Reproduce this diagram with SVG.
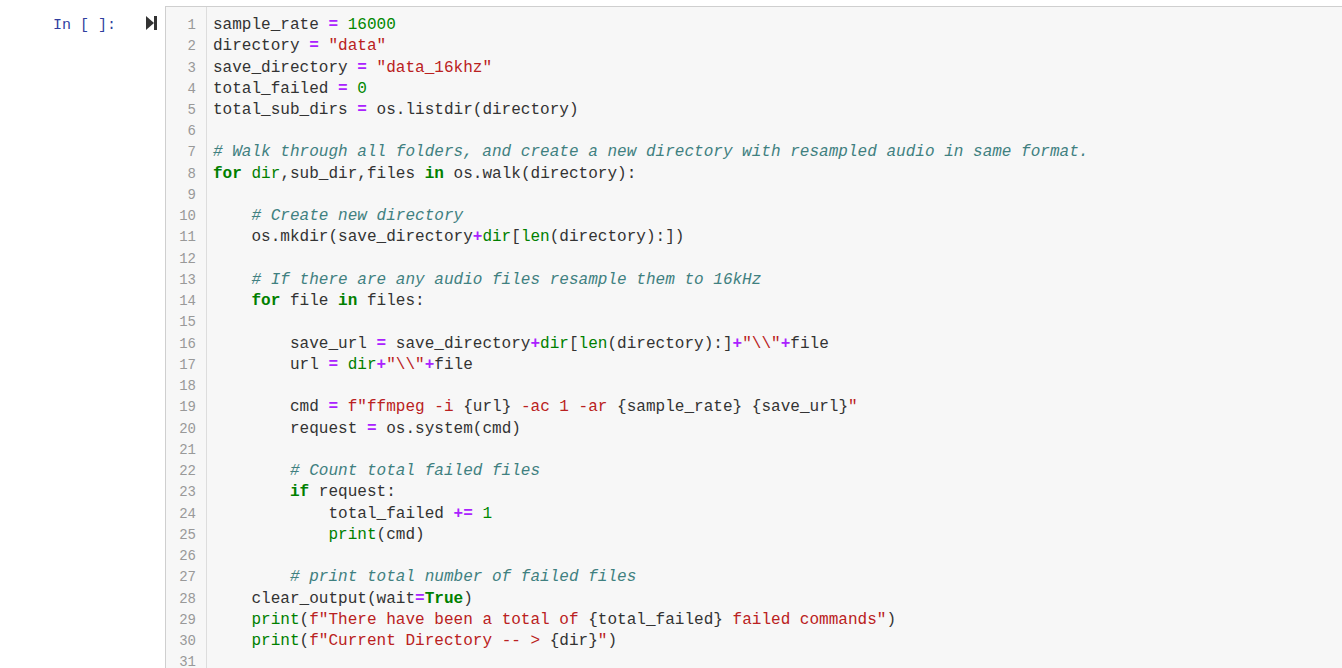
<svg xmlns="http://www.w3.org/2000/svg" width="1342" height="668" viewBox="0 0 1342 668">
<style>
.c{font-family:"Liberation Mono","DejaVu Sans Mono",monospace;font-size:16.05px;fill:#333;white-space:pre}
.n{font-family:"Liberation Mono",monospace;font-size:14px;fill:#999;text-anchor:end}
.k{fill:#008000;font-weight:bold}
.b{fill:#008000}
.o{fill:#aa22ff;font-weight:bold}
.s{fill:#ba2121}
.m{fill:#008800}
.cm{fill:#408080;font-style:italic}
</style>
<rect width="1342" height="668" fill="#fff"/>
<g id="prompt">
<text x="53" y="29" font-family="Liberation Mono,monospace" font-size="15" fill="#303f9f">In [ ]:</text>
<path d="M146 16 L154 23 L146 30 Z" fill="#333"/><rect x="154" y="16" width="3" height="14" fill="#333"/>
</g>
<g id="cell">
<rect x="165.5" y="6.5" width="1190" height="670" fill="#f7f7f7" stroke="#cfcfcf"/>
<line x1="206.5" y1="7" x2="206.5" y2="668" stroke="#ddd"/>
</g>
<g id="linenums">
<text class="n" x="196" y="29">1</text><text class="n" x="196" y="50">2</text><text class="n" x="196" y="71.5">3</text><text class="n" x="196" y="92.7">4</text><text class="n" x="196" y="114">5</text><text class="n" x="196" y="135.2">6</text><text class="n" x="196" y="156.4">7</text><text class="n" x="196" y="177.7">8</text><text class="n" x="196" y="198.9">9</text><text class="n" x="196" y="220.2">10</text><text class="n" x="196" y="241.4">11</text><text class="n" x="196" y="262.6">12</text><text class="n" x="196" y="283.9">13</text><text class="n" x="196" y="305.1">14</text><text class="n" x="196" y="326.4">15</text><text class="n" x="196" y="347.6">16</text><text class="n" x="196" y="368.8">17</text><text class="n" x="196" y="390.1">18</text><text class="n" x="196" y="411.3">19</text><text class="n" x="196" y="432.6">20</text><text class="n" x="196" y="453.8">21</text><text class="n" x="196" y="475">22</text><text class="n" x="196" y="496.3">23</text><text class="n" x="196" y="517.5">24</text><text class="n" x="196" y="538.8">25</text><text class="n" x="196" y="560">26</text><text class="n" x="196" y="581.2">27</text><text class="n" x="196" y="602.5">28</text><text class="n" x="196" y="623.7">29</text><text class="n" x="196" y="645">30</text><text class="n" x="196" y="666.2">31</text>
</g>
<g id="code">
<text class="c" x="213" y="29">sample_rate <tspan class="o">=</tspan> <tspan class="m">16000</tspan></text>
<text class="c" x="213" y="50.2">directory <tspan class="o">=</tspan> <tspan class="s">"data"</tspan></text>
<text class="c" x="213" y="71.5">save_directory <tspan class="o">=</tspan> <tspan class="s">"data_16khz"</tspan></text>
<text class="c" x="213" y="92.7">total_failed <tspan class="o">=</tspan> <tspan class="m">0</tspan></text>
<text class="c" x="213" y="114">total_sub_dirs <tspan class="o">=</tspan> os.listdir(directory)</text>
<text class="c cm" x="213" y="156.4"># Walk through all folders, and create a new directory with resampled audio in same format.</text>
<text class="c" x="213" y="177.7"><tspan class="k">for</tspan> <tspan class="b">dir</tspan>,sub_dir,files <tspan class="k">in</tspan> os.walk(directory):</text>
<text class="c cm" x="213" y="220.2">    # Create new directory</text>
<text class="c" x="213" y="241.4">    os.mkdir(save_directory<tspan class="o">+</tspan><tspan class="b">dir</tspan>[<tspan class="b">len</tspan>(directory):])</text>
<text class="c cm" x="213" y="283.9">    # If there are any audio files resample them to 16kHz</text>
<text class="c" x="213" y="305.1">    <tspan class="k">for</tspan> file <tspan class="k">in</tspan> files:</text>
<text class="c" x="213" y="347.6">        save_url <tspan class="o">=</tspan> save_directory<tspan class="o">+</tspan><tspan class="b">dir</tspan>[<tspan class="b">len</tspan>(directory):]<tspan class="o">+</tspan><tspan class="s">"\\"</tspan><tspan class="o">+</tspan>file</text>
<text class="c" x="213" y="368.8">        url <tspan class="o">=</tspan> <tspan class="b">dir</tspan><tspan class="o">+</tspan><tspan class="s">"\\"</tspan><tspan class="o">+</tspan>file</text>
<text class="c" x="213" y="411.3">        cmd <tspan class="o">=</tspan> <tspan class="s">f"ffmpeg -i </tspan>{url}<tspan class="s"> -ac 1 -ar </tspan>{sample_rate}<tspan class="s"> </tspan>{save_url}<tspan class="s">"</tspan></text>
<text class="c" x="213" y="432.6">        request <tspan class="o">=</tspan> os.system(cmd)</text>
<text class="c cm" x="213" y="475">        # Count total failed files</text>
<text class="c" x="213" y="496.3">        <tspan class="k">if</tspan> request:</text>
<text class="c" x="213" y="517.5">            total_failed <tspan class="o">+=</tspan> <tspan class="m">1</tspan></text>
<text class="c" x="213" y="538.8">            <tspan class="b">print</tspan>(cmd)</text>
<text class="c cm" x="213" y="581.2">        # print total number of failed files</text>
<text class="c" x="213" y="602.5">    clear_output(wait<tspan class="o">=</tspan><tspan class="k">True</tspan>)</text>
<text class="c" x="213" y="623.7">    <tspan class="b">print</tspan>(<tspan class="s">f"There have been a total of </tspan>{total_failed}<tspan class="s"> failed commands"</tspan>)</text>
<text class="c" x="213" y="645">    <tspan class="b">print</tspan>(<tspan class="s">f"Current Directory -- &gt; </tspan>{dir}<tspan class="s">"</tspan>)</text>
</g>
</svg>
